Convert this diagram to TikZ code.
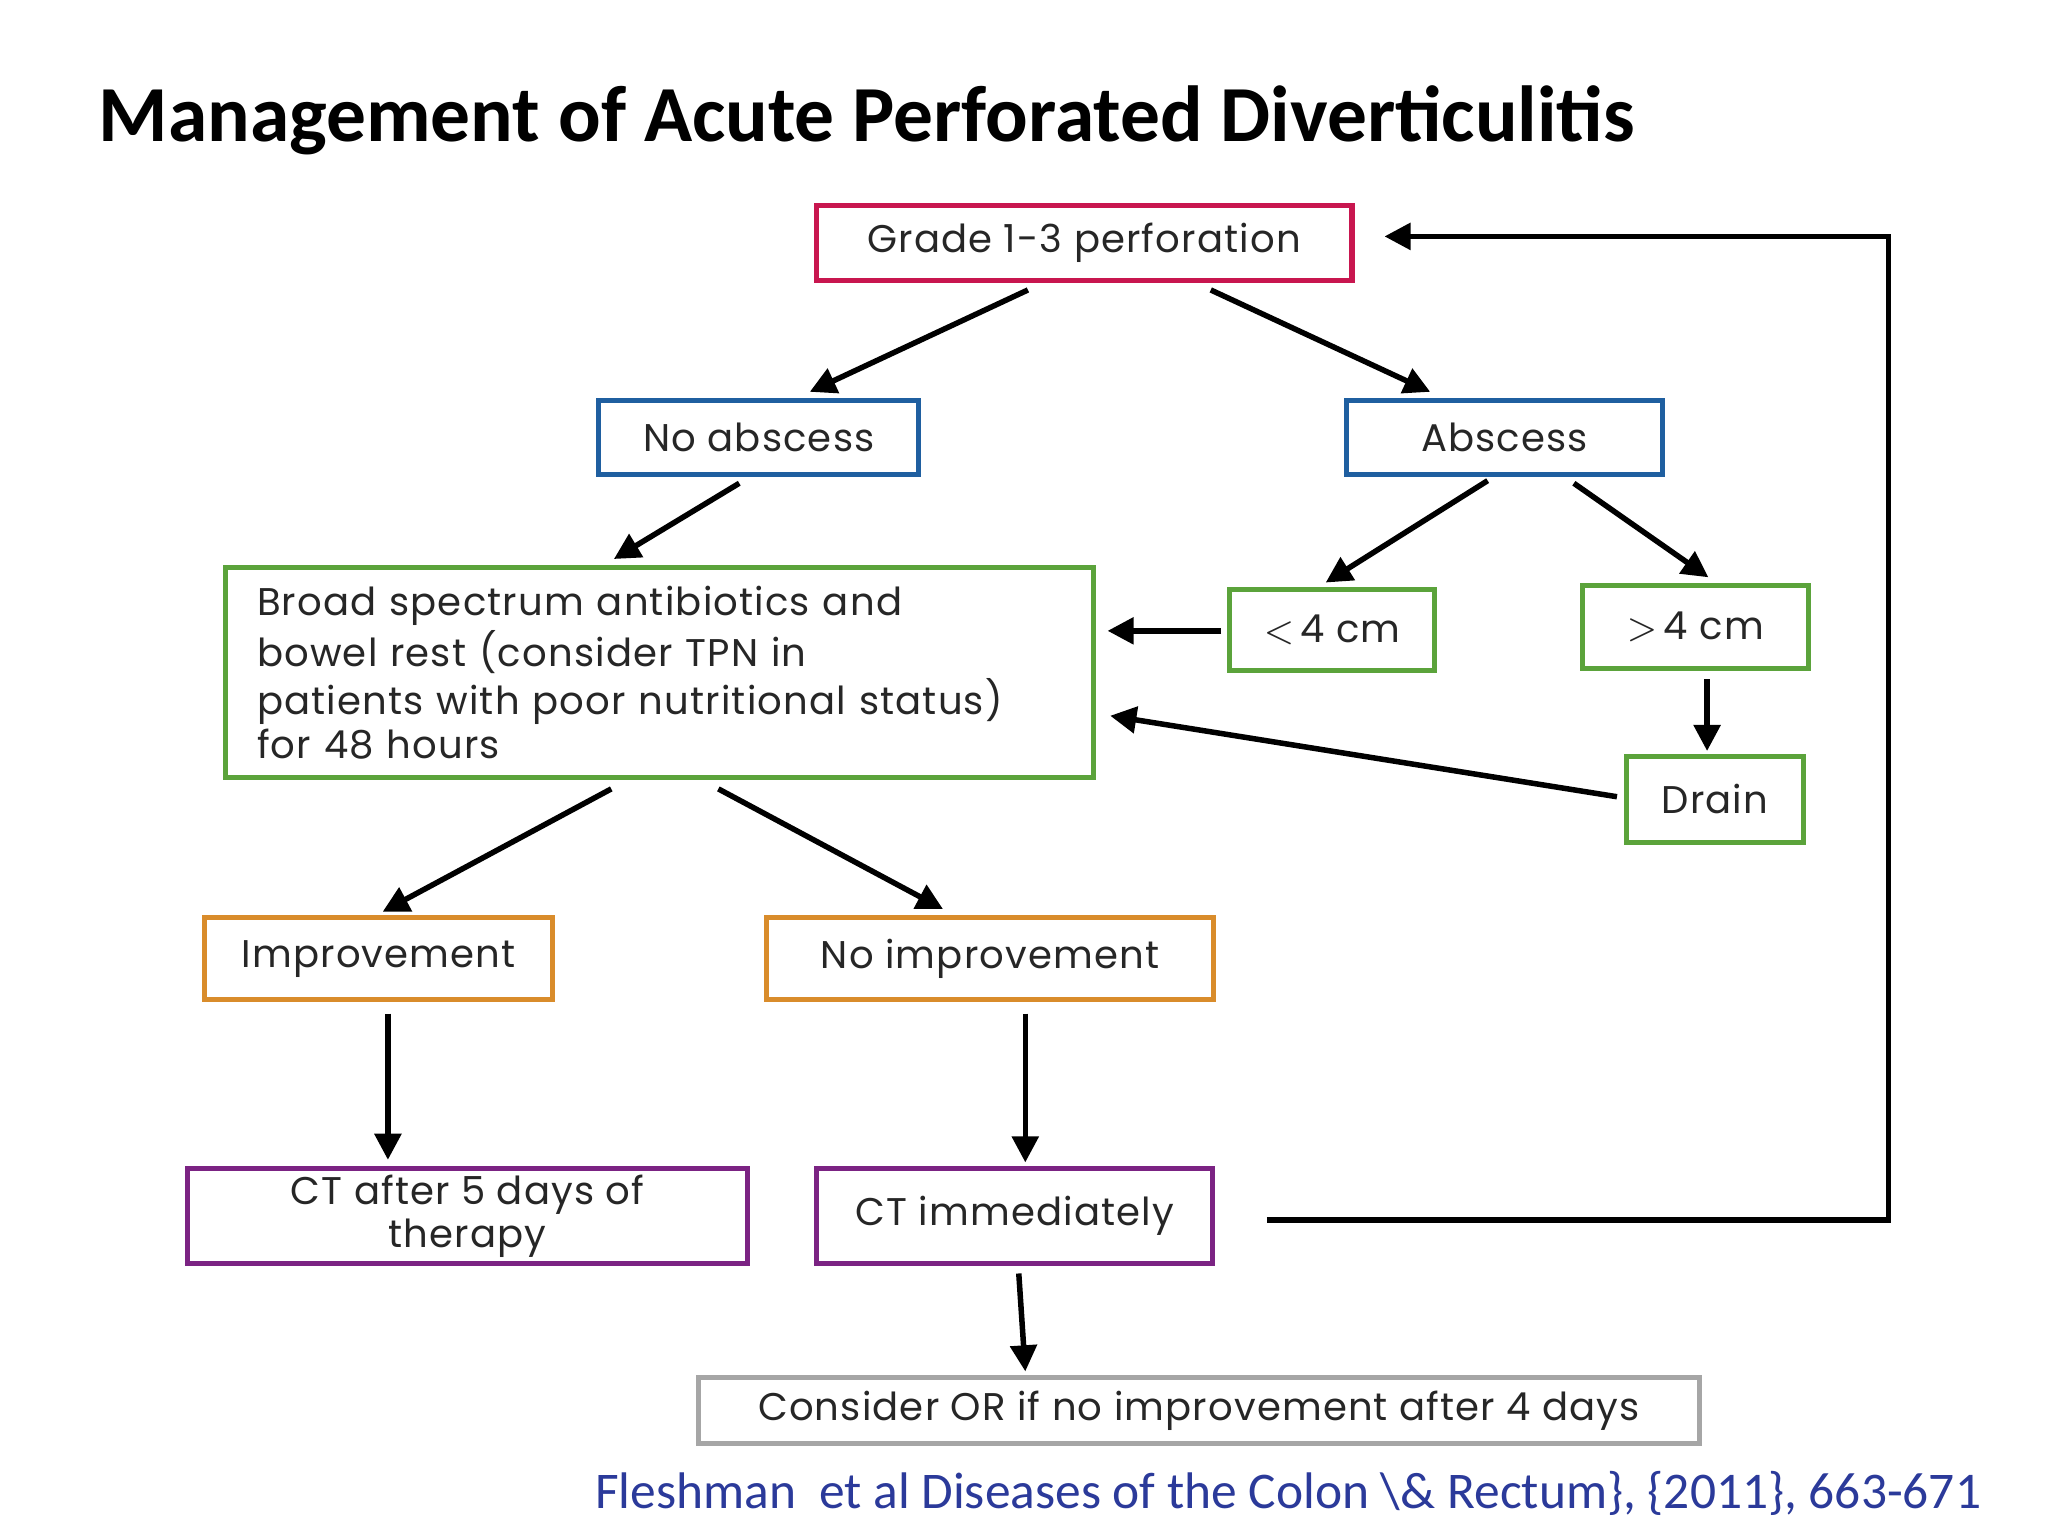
\documentclass[tikz,border=0pt]{standalone}
\usepackage{fontspec}
\setmainfont{Poppins}
\newfontfamily\carl{Carlito}
\usetikzlibrary{arrows.meta}
\definecolor{cRed}{HTML}{C8164F}
\definecolor{cBlue}{HTML}{1F5FA0}
\definecolor{cGreen}{HTML}{5BA33B}
\definecolor{cOrange}{HTML}{D98C2B}
\definecolor{cPurple}{HTML}{7B2383}
\definecolor{cGray}{HTML}{A6A6A6}
\definecolor{cCite}{HTML}{2B3A9A}
\begin{document}
\begin{tikzpicture}[x=0.01cm,y=-0.01cm,
  box/.style={draw=#1,line width=1.1pt,inner sep=0pt,font=\fontsize{8.4}{8.2}\selectfont\addfontfeature{LetterSpace=3},text=black!85},
  arr/.style={line width=1.2pt,-{Triangle[length=0.2cm,width=0.2cm]}}]
\useasboundingbox (0,0) rectangle (1568,1176);
\node[anchor=base west,inner sep=0pt,font=\carl\bfseries\fontsize{17.3}{20}\selectfont] (title) at (75,108) {Management of Acute Perforated Diverticulitis};
\node[anchor=base west,inner sep=0pt,font=\carl\fontsize{11.2}{13}\selectfont,text=cCite] (cite) at (455,1155) {Fleshman\ \ et al Diseases of the Colon \textbackslash\& Rectum\}, \{2011\}, 663-671};

\node[box=cRed,minimum width=4.10cm,minimum height=0.58cm] (g) at (830,186) {Grade 1-3 perforation};
\node[box=cBlue,minimum width=2.45cm,minimum height=0.56cm] (na) at (581,335) {No abscess};
\node[box=cBlue,minimum width=2.42cm,minimum height=0.56cm] (ab) at (1152,335) {Abscess};
\node[box=cGreen,minimum width=6.64cm,minimum height=1.61cm,align=left,text width=6.16cm,inner xsep=0.24cm] (br) at (505,515) {Broad spectrum antibiotics and\\bowel rest (consider TPN in\\patients with poor nutritional status)\\for 48 hours};
\node[box=cGreen,minimum width=1.57cm,minimum height=0.62cm] (lt) at (1020,482) {$<$\,4 cm};
\node[box=cGreen,minimum width=1.73cm,minimum height=0.63cm] (gt) at (1298,480) {$>$\,4 cm};
\node[box=cGreen,minimum width=1.36cm,minimum height=0.66cm] (dr) at (1313,612) {Drain};
\node[box=cOrange,minimum width=2.66cm,minimum height=0.63cm] (im) at (290,734) {Improvement};
\node[box=cOrange,minimum width=3.42cm,minimum height=0.63cm] (ni) at (758,734) {No improvement};
\node[box=cPurple,minimum width=4.28cm,minimum height=0.72cm,align=center] (ca) at (358,931) {CT after 5 days of\\therapy};
\node[box=cPurple,minimum width=3.03cm,minimum height=0.72cm] (ci) at (777,931) {CT immediately};
\node[box=cGray,minimum width=7.66cm,minimum height=0.50cm] (co) at (918,1080) {Consider OR if no improvement after 4 days};

\coordinate (a1) at (787,222); \coordinate (a2) at (620,300);
\coordinate (b1) at (927,222); \coordinate (b2) at (1095,300);
\coordinate (c1) at (566,370); \coordinate (c2) at (470,428);
\coordinate (d1) at (1139,368); \coordinate (d2) at (1015,446);
\coordinate (e1) at (1205,370); \coordinate (e2) at (1308,442);
\coordinate (f1) at (935,483); \coordinate (f2) at (848,483);
\coordinate (h1) at (1307,520); \coordinate (h2) at (1307,575);
\coordinate (i1) at (1238,610); \coordinate (i2) at (850,548);
\coordinate (j1) at (468,604); \coordinate (j2) at (293,698);
\coordinate (k1) at (550,604); \coordinate (k2) at (722,696);
\coordinate (l1) at (297,776); \coordinate (l2) at (297,888);
\coordinate (m1) at (785,776); \coordinate (m2) at (785,890);
\coordinate (n1) at (780,975); \coordinate (n2) at (785,1050);
\coordinate (o1) at (970,934); \coordinate (o2) at (1060,181);
\draw[arr] (a1) -- (a2);
\draw[arr] (b1) -- (b2);
\draw[arr] (c1) -- (c2);
\draw[arr] (d1) -- (d2);
\draw[arr] (e1) -- (e2);
\draw[arr] (f1) -- (f2);
\draw[arr] (h1) -- (h2);
\draw[arr] (i1) -- (i2);
\draw[arr] (j1) -- (j2);
\draw[arr] (k1) -- (k2);
\draw[arr] (l1) -- (l2);
\draw[arr] (m1) -- (m2);
\draw[arr] (n1) -- (n2);
\draw[arr] (o1) -- (1446,934) -- (1446,181) -- (o2);
\end{tikzpicture}
\end{document}
